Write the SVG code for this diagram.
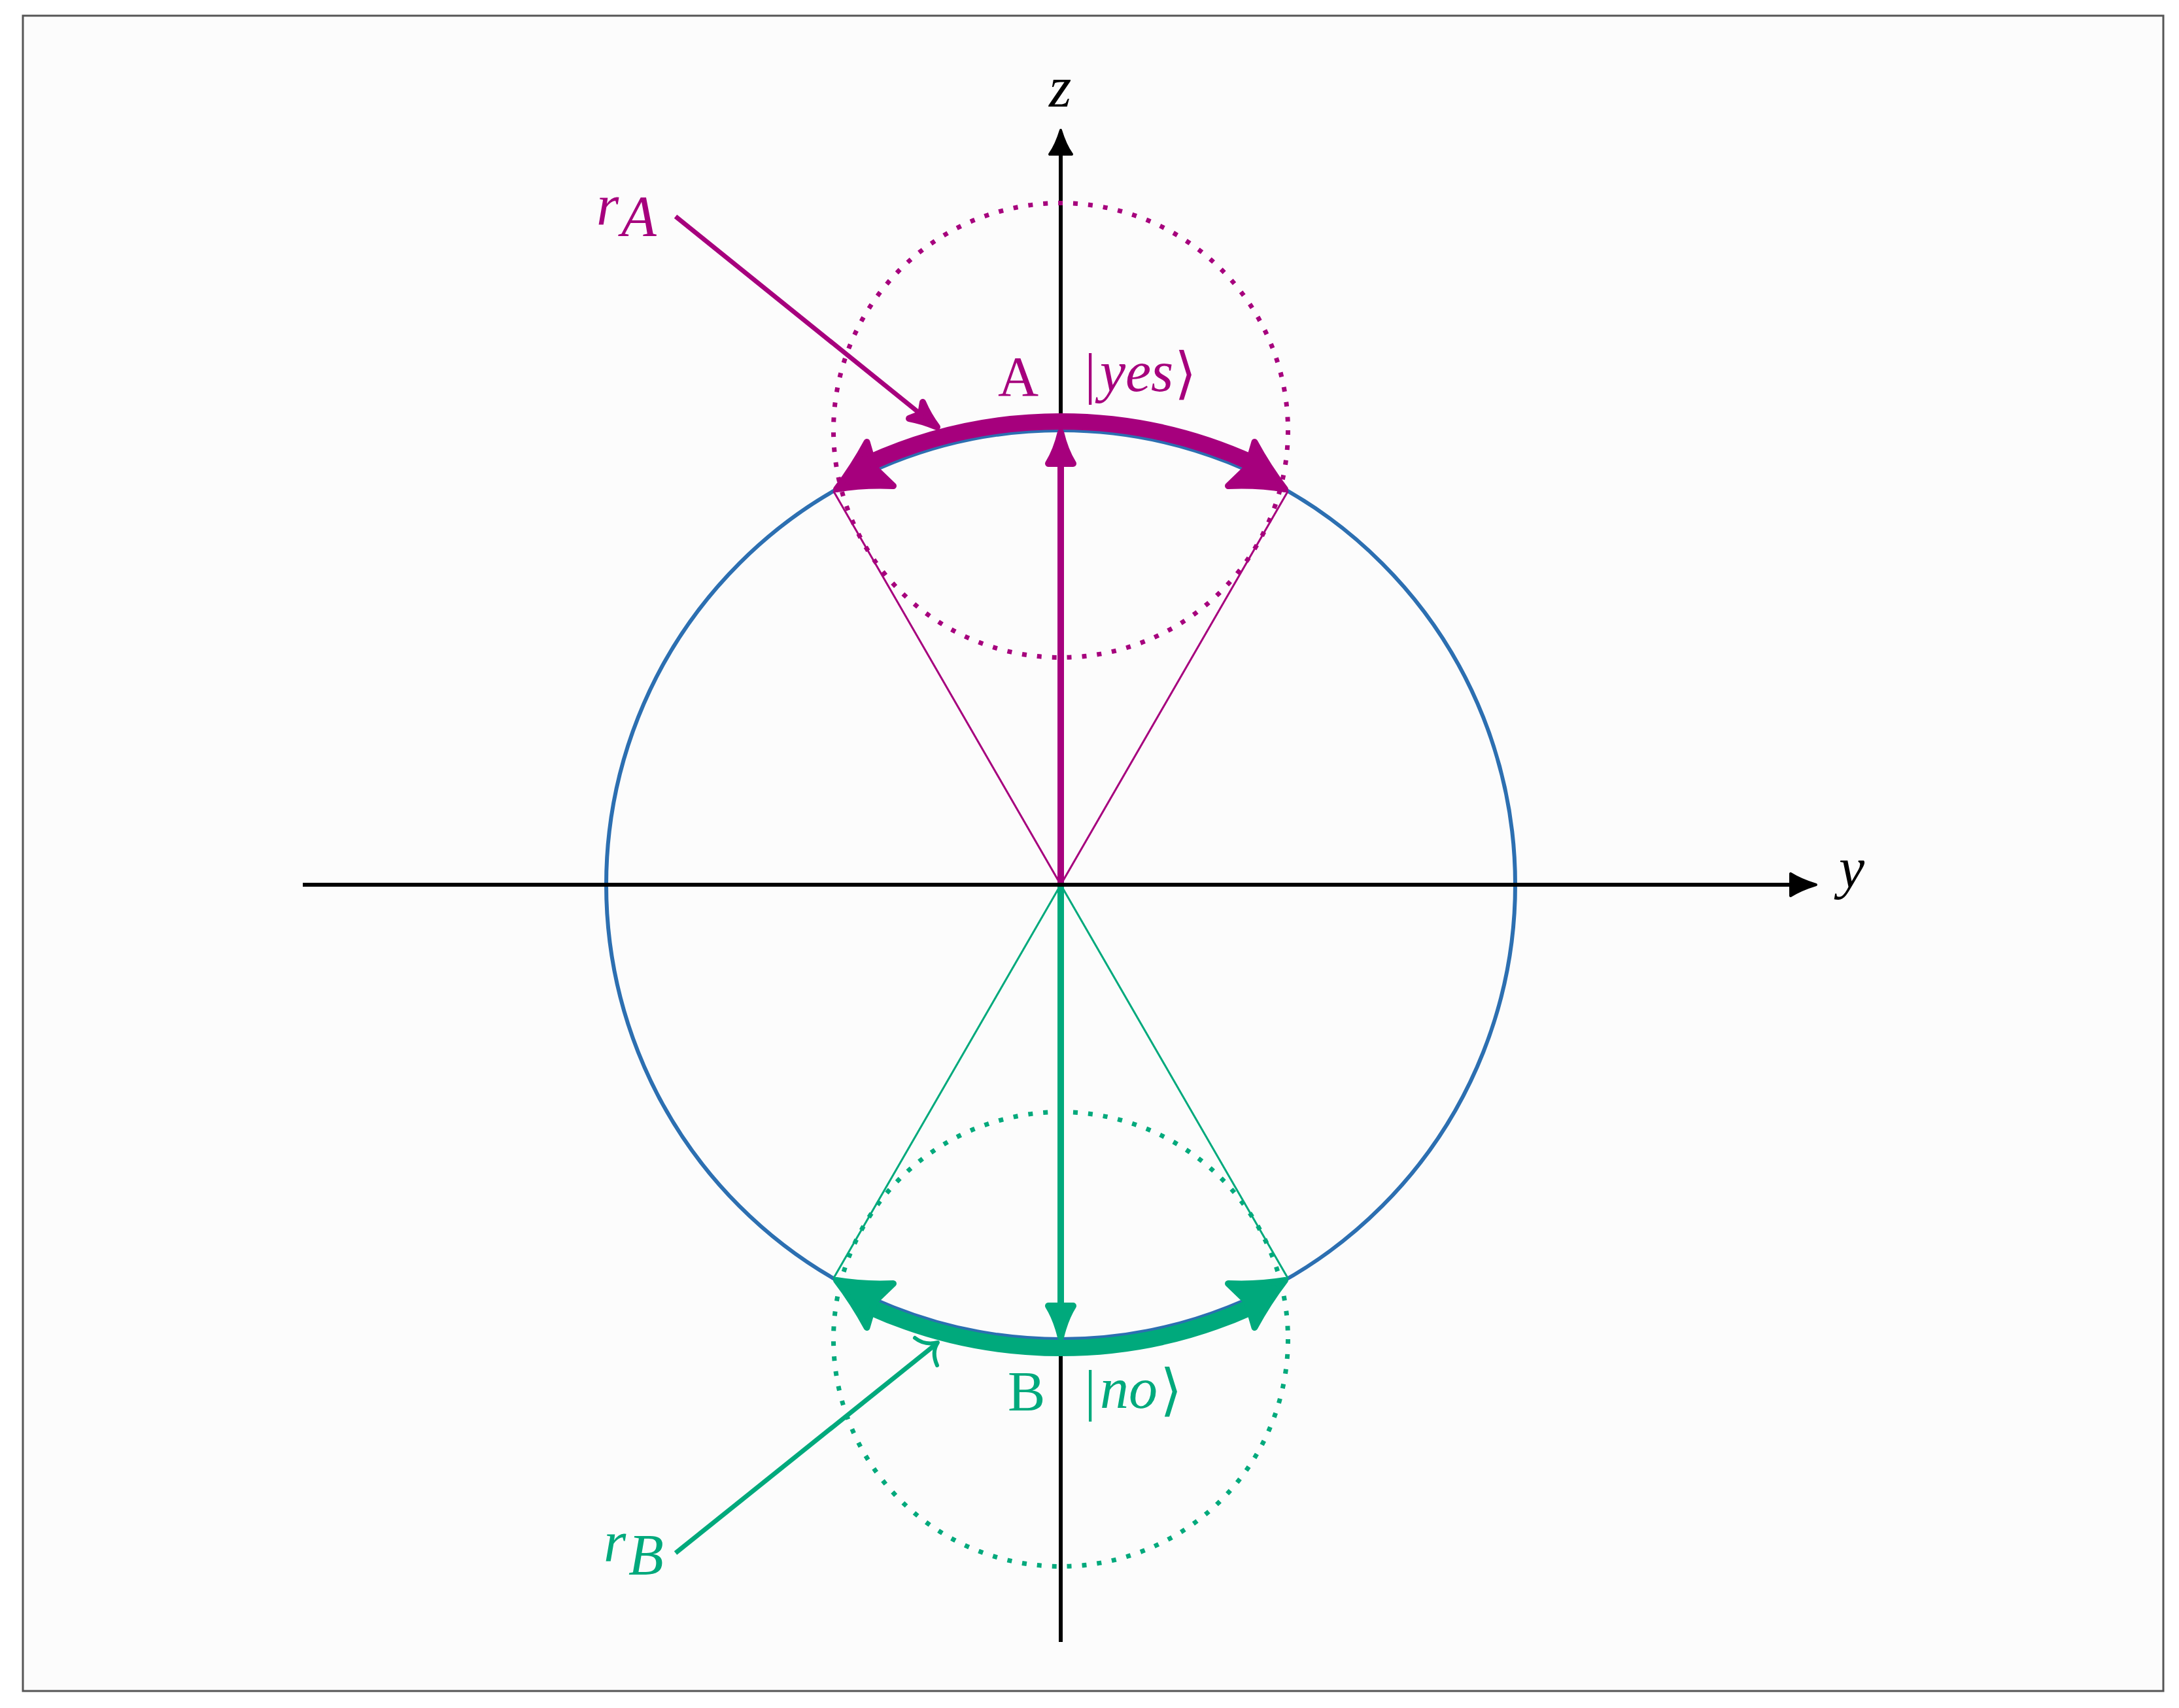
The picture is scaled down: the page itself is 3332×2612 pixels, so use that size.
<svg xmlns="http://www.w3.org/2000/svg" width="3332" height="2612" viewBox="0 0 3332 2612">
<style>
.ax{stroke:#000;stroke-width:6;fill:none}
.axh{fill:#000;stroke:#000;stroke-width:4;stroke-linejoin:round}
.bl{stroke:#2c6fb1;stroke-width:6;fill:none}
.pu{stroke:#a6007d;fill:none}
.gr{stroke:#00a97c;fill:none}
.puf{fill:#a6007d;stroke:#a6007d;stroke-linejoin:round;stroke-width:10}
.grf{fill:#00a97c;stroke:#00a97c;stroke-linejoin:round;stroke-width:10}
.dot{stroke-width:7;stroke-dasharray:7 16;fill:none}
.m{font-family:"Liberation Serif","DejaVu Serif",serif;font-style:italic;font-size:88px}
.r{font-family:"Liberation Serif","DejaVu Serif",serif;font-size:86px}
.br{font-family:"DejaVu Serif","DejaVu Sans",serif;font-size:86px}
</style>
<rect x="0" y="0" width="3332" height="2612" fill="#ffffff"/>
<rect x="35" y="24" width="3273" height="2562" fill="#fcfcfc" stroke="#555" stroke-width="3"/>

<g id="axes">
<line class="ax" x1="1622" y1="2511" x2="1622" y2="232"/>
<path class="axh" d="M1622 199 Q1615 222 1605 236 L1639 236 Q1629 222 1622 199 Z"/>
<text class="m" x="1621" y="163" text-anchor="middle">z</text>
</g>

<g id="sphere">
<circle class="bl" cx="1622" cy="1353" r="695"/>
</g>

<g id="circleA">
<circle class="dot" stroke="#a6007d" cx="1622" cy="658" r="347.5"/>
</g>
<g id="circleB">
<circle class="dot" stroke="#00a97c" cx="1622" cy="2048" r="347.5"/>
</g>

<g id="connectors">
<line class="pu" stroke-width="3" x1="1622" y1="1353" x2="1274.5" y2="751"/>
<line class="pu" stroke-width="3" x1="1622" y1="1353" x2="1969.5" y2="751"/>
<line class="gr" stroke-width="3" x1="1622" y1="1353" x2="1274.5" y2="1955"/>
<line class="gr" stroke-width="3" x1="1622" y1="1353" x2="1969.5" y2="1955"/>

<line class="pu" stroke-width="10" x1="1622" y1="1353" x2="1622" y2="700"/>
<path class="puf" stroke-width="5" d="M1622 661 Q1615 690 1603 709 L1641 709 Q1629 690 1622 661 Z"/>
<line class="gr" stroke-width="10" x1="1622" y1="1353" x2="1622" y2="2006"/>
<path class="grf" stroke-width="5" d="M1622 2045 Q1615 2016 1603 1997 L1641 1997 Q1629 2016 1622 2045 Z"/>

<path class="pu" stroke-width="25" d="M1329 708 A708 708 0 0 1 1915 708"/>
<path class="puf" d="M1279 748 Q1305 714 1325.5 676 L1336.9 715 L1366 743 Q1320 741 1279 748 Z"/>
<path class="puf" d="M1965 748 Q1939 714 1918.5 676 L1907.1 715 L1878 743 Q1924 741 1965 748 Z"/>

<path class="gr" stroke-width="25" d="M1329 1998 A708 708 0 0 0 1915 1998"/>
<path class="grf" d="M1279 1958 Q1305 1992 1325.5 2030 L1336.9 1991 L1366 1963 Q1320 1965 1279 1958 Z"/>
<path class="grf" d="M1965 1958 Q1939 1992 1918.5 2030 L1907.1 1991 L1878 1963 Q1924 1965 1965 1958 Z"/>

<line class="pu" stroke-width="7" x1="1033" y1="331" x2="1410" y2="635"/>
<path class="puf" stroke-width="5" d="M1433 653 Q1408 643 1390 640 L1408 633 L1411 615 Q1420 636 1433 653 Z"/>

<line class="gr" stroke-width="7" x1="1033" y1="2375" x2="1432" y2="2055"/>
<path class="gr" stroke-width="6" stroke-linecap="round" stroke-linejoin="round" d="M1399 2046 Q1414 2058 1434 2053 Q1424 2068 1433 2088"/>

<line class="ax" x1="463" y1="1353" x2="2740" y2="1353"/>
<path class="axh" d="M2777 1353 Q2754 1346 2738 1336 L2738 1370 Q2754 1360 2777 1353 Z"/>
<text class="m" x="2812" y="1357">y</text>
</g>

<g id="labelA" fill="#a6007d">
<text class="r" x="1526" y="605">A</text>
<text class="r" x="1667" y="600" text-anchor="middle">|</text>
<text class="m" x="1682" y="598">yes</text>
<text class="br" x="1796" y="600">⟩</text>
</g>

<g id="labelB" fill="#00a97c">
<text class="r" x="1541" y="2157">B</text>
<text class="r" x="1667" y="2155" text-anchor="middle">|</text>
<text class="m" x="1682" y="2153">no</text>
<text class="br" x="1774" y="2155">⟩</text>
</g>

<g id="rA" fill="#a6007d">
<text class="m" x="912" y="343">r</text>
<text class="m" x="950" y="360" font-size="64">A</text>
</g>
<g id="rB" fill="#00a97c">
<text class="m" x="923" y="2387">r</text>
<text class="m" x="961" y="2407" font-size="64">B</text>
</g>
</svg>
